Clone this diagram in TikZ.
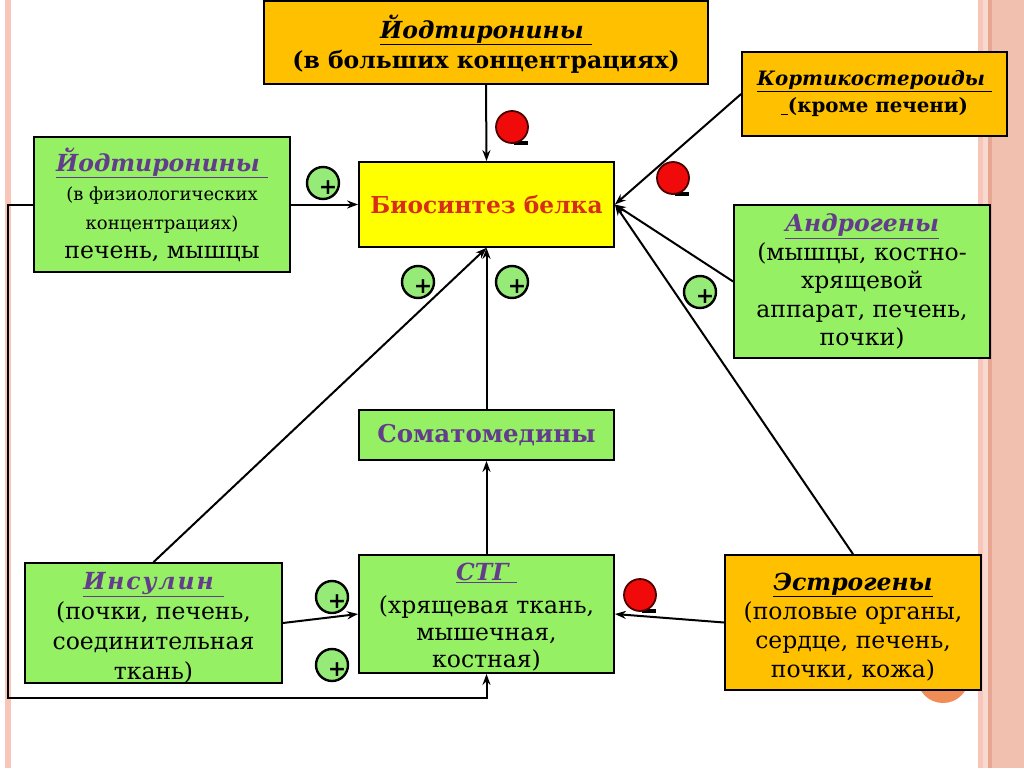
\documentclass[tikz,border=0pt]{standalone}
\usepackage{fontspec}
\setmainfont{DejaVu Serif}
\usetikzlibrary{arrows.meta}
\definecolor{orbox}{RGB}{255,192,0}
\definecolor{ylbox}{RGB}{255,255,0}
\definecolor{grbox}{RGB}{150,240,100}
\definecolor{purp}{RGB}{100,60,140}
\definecolor{biored}{RGB}{215,45,25}
\definecolor{pgreen}{RGB}{150,235,120}
\definecolor{mred}{RGB}{240,10,10}
\definecolor{pinkA}{RGB}{247,198,184}
\definecolor{pinkB}{RGB}{242,192,175}
\definecolor{pinkC}{RGB}{232,165,145}
\definecolor{decor}{RGB}{240,140,85}
\newcommand\ttl[2]{\textcolor{#1}{\bfseries\itshape\underline{#2}}}
\newcommand\fs[2]{\fontsize{#1}{#2}\selectfont}
\newcommand\topstrut{\rule{0pt}{26pt}}
\begin{document}
\begin{tikzpicture}[x=1pt,y=-1pt,
  box/.style={draw=black, line width=1.8pt, align=center, inner sep=0pt},
  conn/.style={line width=2pt, -{Stealth[length=11pt,width=8pt]}},
  pc/.style={circle, draw=black, line width=2.4pt, fill=pgreen, minimum size=32pt, inner sep=0pt},
  mc/.style={circle, draw=black!70!red, line width=1.8pt, fill=mred, minimum size=32pt, inner sep=0pt},
  pluss/.style={font=\bfseries\fs{22}{22}, inner sep=0pt}]
\useasboundingbox (0,0) rectangle (1024,768);
\fill[white] (0,0) rectangle (1024,768);
% decorative stripes
\fill[pinkA] (5,0) rectangle (11,768);
\fill[pinkA] (978,0) rectangle (983,768);
\fill[pinkB!60] (983,0) rectangle (988,768);
\fill[pinkC] (988,0) rectangle (992,768);
\fill[pinkB] (992,0) rectangle (1024,768);
\fill[decor] (943,677) circle (26);

% boxes
\node[box, fill=orbox, minimum width=444pt, minimum height=83pt, font=\bfseries\fs{23.5}{30}] (top) at (486,42.5)
  {\topstrut\ttl{black}{Йодтиронины\ }\\ (в больших концентрациях)};
\node[box, fill=orbox, minimum width=265pt, minimum height=84pt, font=\bfseries\fs{19.8}{27}] (kort) at (874.5,94)
  {\ttl{black}{Кортикостероиды\ }\\ \underline{\ }(кроме печени)};
\node[box, fill=grbox, minimum width=256pt, minimum height=135pt, font=\fs{18}{29}] (iod) at (162,204.5)
  {\fs{23.5}{29}\ttl{purp}{Йодтиронины\ }\\ (в физиологических\\ концентрациях)\\ \fs{23.5}{29}печень, мышцы};
\node[box, fill=ylbox, minimum width=255pt, minimum height=85pt, font=\bfseries\fs{23.3}{28}] (bio) at (486.5,204.5)
  {\textcolor{biored}{Биосинтез белка}};
\node[box, fill=grbox, minimum width=256pt, minimum height=153pt, font=\fs{23.5}{28.5}] (andr) at (862,281.5)
  {\ttl{purp}{Андрогены}\\ (мышцы, костно-\\ хрящевой\\ аппарат, печень,\\ почки)};
\node[box, fill=grbox, minimum width=255pt, minimum height=50pt, font=\bfseries\fs{24.5}{28}] (som) at (486.5,435)
  {\textcolor{purp}{Соматомедины}};
\node[box, fill=grbox, minimum width=257pt, minimum height=120pt, font=\fs{23.5}{30}] (ins) at (153.5,623)
  {\topstrut\ttl{purp}{\addfontfeature{LetterSpace=8}Инсулин\ }\\ (почки, печень,\\ соединительная\\ ткань)};
\node[box, fill=grbox, minimum width=255pt, minimum height=118pt, font=\fs{23.5}{27}] (stg) at (486.5,614)
  {\rule{0pt}{24pt}\ttl{purp}{СТГ\ }\\[6pt] (хрящевая ткань,\\ мышечная,\\ костная)};
\node[box, fill=orbox, minimum width=256pt, minimum height=135pt, font=\fs{23.5}{29}] (est) at (853,622.5)
  {\topstrut\ttl{black}{Эстрогены}\\ (половые органы,\\ сердце, печень,\\ почки, кожа)};

% connectors
\coordinate (loop) at (8,698);
\draw[conn] (top.south) -- (bio.north);
\draw[conn] (kort.west) -- (bio.east);
\draw[conn] (andr.west) -- (bio.east);
\draw[conn] (est.north) -- (bio.east);
\draw[conn] (iod.east) -- (bio.west);
\draw[conn] (ins.north) -- (bio.south);
\draw[conn] (som.north) -- (bio.south);
\draw[conn] (stg.north) -- (som.south);
\draw[conn] (ins.east) -- (stg.west);
\draw[conn] (est.west) -- (stg.east);
\draw[conn] (iod.west) -| (loop) -| (stg.south);

% plus markers
\foreach \n/\p in {p1/{323,183}, p2/{418,282}, p3/{512,282}, p4/{700,292}, p5/{332,597}, p6/{332,665}}{
  \node[pc] (\n) at (\p) {};
  \node[pluss] at ([shift={(5,5)}]\n.center) {+};
}
% minus markers
\foreach \n/\p in {m1/{512,127}, m2/{673,178}, m3/{640,595}}{
  \node[minimum size=32pt, inner sep=0pt] (\n) at (\p) {};
  \draw[line width=4pt] ([shift={(2,16)}]\n.center) -- ([shift={(16,16)}]\n.center);
  \node[mc] at (\n.center) {};
}
\end{tikzpicture}
\end{document}
